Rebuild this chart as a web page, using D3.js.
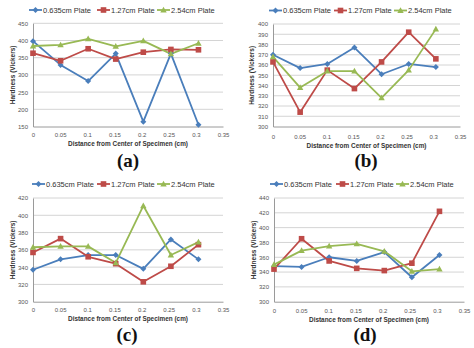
<!DOCTYPE html>
<html><head><meta charset="utf-8">
<script src="https://cdn.jsdelivr.net/npm/d3@7"></script>
<style>body{margin:0;background:#fff}svg{display:block}</style>
</head><body>
<svg id="c" width="474" height="348"></svg>
<script>
// ---- data ----
const xValues = [0, 0.0508, 0.1016, 0.1524, 0.2032, 0.254, 0.3048];
const xTicks = [0, 0.05, 0.1, 0.15, 0.2, 0.25, 0.3, 0.35];
const xTickLabels = ["0", "0.05", "0.1", "0.15", "0.2", "0.25", "0.3", "0.35"];
const seriesNames = ["0.635cm Plate", "1.27cm Plate", "2.54cm Plate"];
const captions = ["(a)", "(b)", "(c)", "(d)"];

const aThin  = [398, 329, 282, 362, 164, 362, 155];
const aMid   = [363, 341, 376, 346, 366, 374, 373];
const aThick = [384, 387, 405, 383, 399, 361, 392];
const aTicks = [150, 200, 250, 300, 350, 400, 450];

const bThin  = [370, 357, 361, 377, 351, 361, 358];
const bMid   = [363, 314, 355, 337, 363, 392, 366];
const bThick = [368, 338, 354, 354, 328, 355, 395];
const bTicks = [300, 310, 320, 330, 340, 350, 360, 370, 380, 390, 400];

const cThin  = [337, 349, 354, 354, 338, 372, 349];
const cMid   = [357, 373, 352, 344, 323, 341, 366];
const cThick = [363, 364, 364, 345, 411, 354, 369];
const cTicks = [300, 320, 340, 360, 380, 400, 420];

const dThin  = [348, 347, 360, 355, 367, 333, 363];
const dMid   = [344, 385, 355, 345, 342, 352, 422];
const dThick = [350, 369, 375, 378, 368, 341, 344];
const dTicks = [300, 320, 340, 360, 380, 400, 420, 440];

// ---- layout / style ----
const colors = ["#4a7ebb", "#be4b48", "#98b954"];
const panels = [
  {series:[aThin,aMid,aThick], ticks:aTicks, L:33, R:223, T:23.3, B:126.5, leg:[29,97,157], legY:10, ytX:13, tickY:135, titleY:146, capX:128, capY:167},
  {series:[bThin,bMid,bThick], ticks:bTicks, L:273, R:460, T:24, B:126.5, leg:[269,334,394], legY:10.5, ytX:252, tickY:137, titleY:148, capX:366, capY:167},
  {series:[cThin,cMid,cThick], ticks:cTicks, L:33, R:223, T:198, B:301.7, leg:[32,97,157], legY:184, ytX:13, tickY:310, titleY:321, capX:127, capY:341},
  {series:[dThin,dMid,dThick], ticks:dTicks, L:274, R:464, T:198, B:301.7, leg:[270,336,396], legY:184, ytX:254, tickY:311, titleY:322, capX:365, capY:341}
];
const font = "'Liberation Sans', Arial, sans-serif";
const svg = d3.select("#c");

function marker(g, i, x, y) {
  const c = colors[i];
  if (i === 0) {
    g.append("path").attr("d", `M${x},${y-3}L${x+3},${y}L${x},${y+3}L${x-3},${y}Z`).attr("fill", c);
  } else if (i === 1) {
    g.append("rect").attr("x", x-2.8).attr("y", y-2.8).attr("width", 5.6).attr("height", 5.6).attr("fill", c);
  } else {
    g.append("path").attr("d", `M${x},${y-3.3}L${x+3.2},${y+2.4}L${x-3.2},${y+2.4}Z`).attr("fill", c);
  }
}

panels.forEach((p, pi) => {
  const g = svg.append("g");
  const x = d3.scaleLinear().domain([0, 0.35]).range([p.L, p.R]);
  const y = d3.scaleLinear().domain(d3.extent(p.ticks)).range([p.B, p.T]);

  // gridlines
  g.selectAll(".grid").data(p.ticks.slice(1)).join("line")
    .attr("x1", p.L).attr("x2", p.R)
    .attr("y1", d => y(d)).attr("y2", d => y(d))
    .attr("stroke", "#d4d4d4").attr("stroke-width", 1);

  // y axis
  const ya = d3.axisLeft(y).tickValues(p.ticks).tickSize(0).tickPadding(5).tickFormat(d3.format("d"));
  const yg = g.append("g").attr("transform", `translate(${p.L},0)`).call(ya);
  yg.select(".domain").attr("stroke", "#9a9a9a");
  yg.selectAll("text").attr("font-family", font).attr("font-size", 6).attr("fill", "#555");

  // x axis
  const xa = d3.axisBottom(x).tickValues(xTicks).tickSize(0).tickPadding(0)
    .tickFormat((d, i) => xTickLabels[i]);
  const xg = g.append("g").attr("transform", `translate(0,${p.B})`).call(xa);
  xg.select(".domain").attr("stroke", "#9a9a9a");
  xg.selectAll("text").attr("font-family", font).attr("font-size", 6).attr("fill", "#555")
    .attr("dy", null).attr("y", p.tickY - p.B + 2);

  // axis titles
  g.append("text").attr("x", (p.L + p.R) / 2).attr("y", p.titleY)
    .attr("text-anchor", "middle").attr("font-family", font).attr("font-weight", "bold")
    .attr("font-size", 7).attr("fill", "#333")
    .attr("textLength", 120).attr("lengthAdjust", "spacingAndGlyphs")
    .text("Distance from Center of Specimen (cm)");
  g.append("text").attr("transform", `translate(${p.ytX},${(p.T + p.B) / 2}) rotate(-90)`)
    .attr("text-anchor", "middle").attr("font-family", font).attr("font-weight", "bold")
    .attr("font-size", 6.5).attr("fill", "#333").attr("dy", "0.35em")
    .text("Hardness (Vickers)");

  // lines and markers
  const line = d3.line().x((d, i) => x(xValues[i])).y(d => y(d));
  p.series.forEach((s, si) => {
    g.append("path").datum(s).attr("d", line).attr("fill", "none")
      .attr("stroke", colors[si]).attr("stroke-width", 1.8).attr("stroke-linejoin", "round");
  });
  p.series.forEach((s, si) => {
    s.forEach((v, i) => marker(g, si, x(xValues[i]), y(v)));
  });

  // legend
  seriesNames.forEach((n, si) => {
    const lx = p.leg[si];
    g.append("line").attr("x1", lx).attr("x2", lx + 13).attr("y1", p.legY).attr("y2", p.legY)
      .attr("stroke", colors[si]).attr("stroke-width", 1.8);
    marker(g, si, lx + 6.5, p.legY);
    g.append("text").attr("x", lx + 14).attr("y", p.legY).attr("dy", "0.35em")
      .attr("font-family", font).attr("font-size", 7.5).attr("fill", "#333")
      .text(n);
  });

  // caption
  g.append("text").attr("x", p.capX).attr("y", p.capY).attr("text-anchor", "middle")
    .attr("font-family", "'Liberation Serif', 'Times New Roman', serif").attr("font-weight", "bold")
    .attr("font-size", 19).attr("fill", "#111").text(captions[pi]);
});
</script>
</body></html>
